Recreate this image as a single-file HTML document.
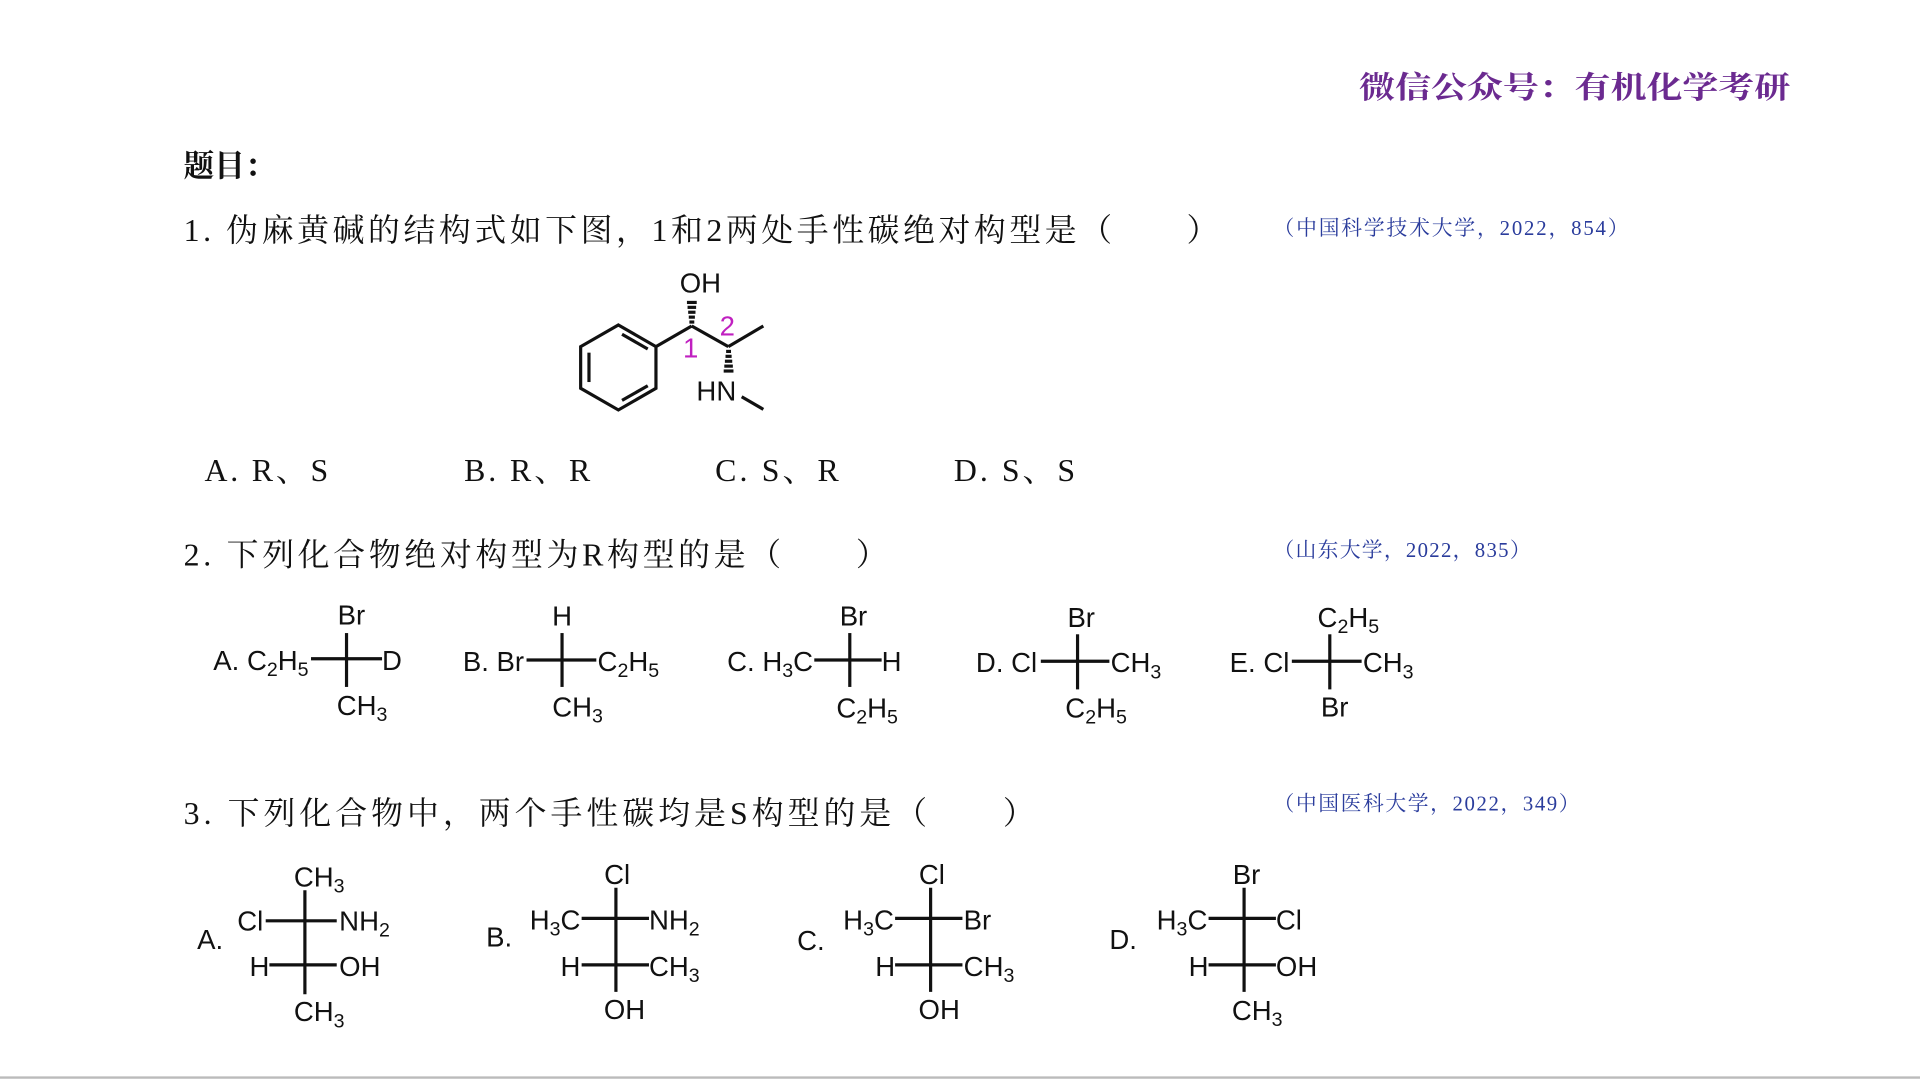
<!DOCTYPE html>
<html><head><meta charset="utf-8"><style>
html,body{margin:0;padding:0;background:#fff;width:1920px;height:1080px;overflow:hidden}
svg{display:block}
.s{font-family:"Liberation Serif","Noto Serif CJK SC",serif;fill:#111}
.a{font-family:"Liberation Sans",sans-serif;font-size:22.5px;fill:#111}
.src{font-family:"Liberation Serif","Noto Serif CJK SC",serif;font-size:17px;fill:#2a3c9c}
line{stroke:#111;stroke-width:2.6}
</style></head><body>
<svg width="1920" height="1080" viewBox="0 0 1568 882" xmlns="http://www.w3.org/2000/svg">
<rect width="1568" height="882" fill="#fff"/>
<line x1="0" y1="880" x2="1568" y2="880" style="stroke:#bbb;stroke-width:2"/>
<text x="1110" y="80" textLength="352" lengthAdjust="spacingAndGlyphs" style="font-family:'Noto Serif CJK SC',serif;font-size:25px;font-weight:bold;fill:#6b2a90">微信公众号：有机化学考研</text>
<text x="150" y="144" class="s" style="font-size:25px;font-weight:bold">题目：</text>
<text x="150" y="197" class="s" textLength="845" style="font-size:26px">1. 伪麻黄碱的结构式如下图，1和2两处手性碳绝对构型是（　　）</text>
<text x="1040" y="192" class="src" textLength="290">（中国科学技术大学，2022，854）</text>
<!-- molecule -->
<polygon points="505,265.4 535.7,283.1 535.7,317.1 505,334.8 474.2,317.1 474.2,283.1" fill="none" stroke="#111" stroke-width="2.6"/>
<line x1="481" y1="288" x2="481" y2="312"/><line x1="508" y1="273" x2="529" y2="285"/><line x1="508" y1="327" x2="529" y2="315"/>
<line x1="535.7" y1="283.1" x2="564.9" y2="266.2"/><line x1="564.9" y1="266.2" x2="594.8" y2="283.1"/><line x1="594.8" y1="283.1" x2="623.4" y2="266.2"/>
<line x1="605.7" y1="324" x2="623.4" y2="334.3"/>
<g stroke="#111" stroke-width="2">
<line x1="563" y1="263" x2="567" y2="263"/><line x1="562.5" y1="259" x2="567.5" y2="259"/><line x1="562" y1="255" x2="568" y2="255"/><line x1="561.5" y1="251" x2="568.5" y2="251"/><line x1="561" y1="247" x2="569" y2="247"/>
<line x1="593" y1="287" x2="597" y2="287"/><line x1="592.5" y1="291" x2="597.5" y2="291"/><line x1="592" y1="295" x2="598" y2="295"/><line x1="591.5" y1="299" x2="598.5" y2="299"/><line x1="591" y1="303" x2="599" y2="303"/>
</g>
<text x="572" y="239" class="a" text-anchor="middle">OH</text>
<text x="585" y="327" class="a" text-anchor="middle">HN</text>
<text x="564" y="292" class="a" text-anchor="middle" style="fill:#c020c0">1</text>
<text x="594" y="274" class="a" text-anchor="middle" style="fill:#c020c0">2</text>
<g class="s" style="font-size:26px">
<text x="167" y="393" textLength="101">A. R、S</text><text x="379" y="393" textLength="103">B. R、R</text><text x="584" y="393" textLength="101">C. S、R</text><text x="779" y="393" textLength="99">D. S、S</text>
</g>
<text x="150" y="462" class="s" textLength="575" style="font-size:26px">2. 下列化合物绝对构型为R构型的是（　　）</text>
<text x="1040" y="455" class="src" textLength="210">（山东大学，2022，835）</text>
<!-- Q2 -->
<g>
<line x1="283" y1="517" x2="283" y2="561"/><line x1="254" y1="538" x2="312" y2="538"/>
<text x="287" y="510" class="a" text-anchor="middle">Br</text>
<text x="252" y="547" class="a" text-anchor="end">A. C<tspan dy="5" font-size="16">2</tspan><tspan dy="-5">H</tspan><tspan dy="5" font-size="16">5</tspan></text>
<text x="312" y="547" class="a">D</text>
<text x="275" y="584" class="a">CH<tspan dy="5" font-size="16">3</tspan></text>

<line x1="459" y1="517" x2="459" y2="561"/><line x1="430" y1="539" x2="487" y2="539"/>
<text x="459" y="511" class="a" text-anchor="middle">H</text>
<text x="428" y="548" class="a" text-anchor="end">B. Br</text>
<text x="488" y="548" class="a">C<tspan dy="5" font-size="16">2</tspan><tspan dy="-5">H</tspan><tspan dy="5" font-size="16">5</tspan></text>
<text x="451" y="585" class="a">CH<tspan dy="5" font-size="16">3</tspan></text>

<line x1="694" y1="517" x2="694" y2="561"/><line x1="665" y1="539" x2="720" y2="539"/>
<text x="697" y="511" class="a" text-anchor="middle">Br</text>
<text x="664" y="548" class="a" text-anchor="end">C. H<tspan dy="5" font-size="16">3</tspan><tspan dy="-5">C</tspan></text>
<text x="720" y="548" class="a">H</text>
<text x="683" y="586" class="a">C<tspan dy="5" font-size="16">2</tspan><tspan dy="-5">H</tspan><tspan dy="5" font-size="16">5</tspan></text>

<line x1="880" y1="518" x2="880" y2="563"/><line x1="850" y1="540" x2="906" y2="540"/>
<text x="883" y="512" class="a" text-anchor="middle">Br</text>
<text x="847" y="549" class="a" text-anchor="end">D. Cl</text>
<text x="907" y="549" class="a">CH<tspan dy="5" font-size="16">3</tspan></text>
<text x="870" y="586" class="a">C<tspan dy="5" font-size="16">2</tspan><tspan dy="-5">H</tspan><tspan dy="5" font-size="16">5</tspan></text>

<line x1="1086" y1="518" x2="1086" y2="563"/><line x1="1055" y1="540" x2="1112" y2="540"/>
<text x="1076" y="512" class="a">C<tspan dy="5" font-size="16">2</tspan><tspan dy="-5">H</tspan><tspan dy="5" font-size="16">5</tspan></text>
<text x="1053" y="549" class="a" text-anchor="end">E. Cl</text>
<text x="1113" y="549" class="a">CH<tspan dy="5" font-size="16">3</tspan></text>
<text x="1090" y="585" class="a" text-anchor="middle">Br</text>
</g>
<text x="150" y="673" class="s" textLength="695" style="font-size:26px">3. 下列化合物中，两个手性碳均是S构型的是（　　）</text>
<text x="1040" y="662" class="src" textLength="250">（中国医科大学，2022，349）</text>
<!-- Q3 -->
<g>
<line x1="249" y1="727" x2="249" y2="812"/><line x1="217" y1="752" x2="275" y2="752"/><line x1="220" y1="788" x2="275" y2="788"/>
<text x="240" y="724" class="a">CH<tspan dy="5" font-size="16">3</tspan></text>
<text x="215" y="760" class="a" text-anchor="end">Cl</text>
<text x="277" y="760" class="a">NH<tspan dy="5" font-size="16">2</tspan></text>
<text x="220" y="797" class="a" text-anchor="end">H</text>
<text x="277" y="797" class="a">OH</text>
<text x="240" y="834" class="a">CH<tspan dy="5" font-size="16">3</tspan></text>
<text x="161" y="775" class="a">A.</text>

<line x1="503" y1="725" x2="503" y2="810"/><line x1="475" y1="750" x2="530" y2="750"/><line x1="475" y1="788" x2="530" y2="788"/>
<text x="504" y="722" class="a" text-anchor="middle">Cl</text>
<text x="474" y="759" class="a" text-anchor="end">H<tspan dy="5" font-size="16">3</tspan><tspan dy="-5">C</tspan></text>
<text x="530" y="759" class="a">NH<tspan dy="5" font-size="16">2</tspan></text>
<text x="474" y="797" class="a" text-anchor="end">H</text>
<text x="530" y="797" class="a">CH<tspan dy="5" font-size="16">3</tspan></text>
<text x="510" y="832" class="a" text-anchor="middle">OH</text>
<text x="397" y="773" class="a">B.</text>

<line x1="760" y1="725" x2="760" y2="810"/><line x1="731" y1="750" x2="786" y2="750"/><line x1="731" y1="788" x2="786" y2="788"/>
<text x="761" y="722" class="a" text-anchor="middle">Cl</text>
<text x="730" y="759" class="a" text-anchor="end">H<tspan dy="5" font-size="16">3</tspan><tspan dy="-5">C</tspan></text>
<text x="787" y="759" class="a">Br</text>
<text x="731" y="797" class="a" text-anchor="end">H</text>
<text x="787" y="797" class="a">CH<tspan dy="5" font-size="16">3</tspan></text>
<text x="767" y="832" class="a" text-anchor="middle">OH</text>
<text x="651" y="776" class="a">C.</text>

<line x1="1016" y1="725" x2="1016" y2="810"/><line x1="987" y1="750" x2="1042" y2="750"/><line x1="987" y1="788" x2="1042" y2="788"/>
<text x="1018" y="722" class="a" text-anchor="middle">Br</text>
<text x="986" y="759" class="a" text-anchor="end">H<tspan dy="5" font-size="16">3</tspan><tspan dy="-5">C</tspan></text>
<text x="1042" y="759" class="a">Cl</text>
<text x="987" y="797" class="a" text-anchor="end">H</text>
<text x="1042" y="797" class="a">OH</text>
<text x="1006" y="833" class="a">CH<tspan dy="5" font-size="16">3</tspan></text>
<text x="906" y="775" class="a">D.</text>
</g>
</svg>
</body></html>
